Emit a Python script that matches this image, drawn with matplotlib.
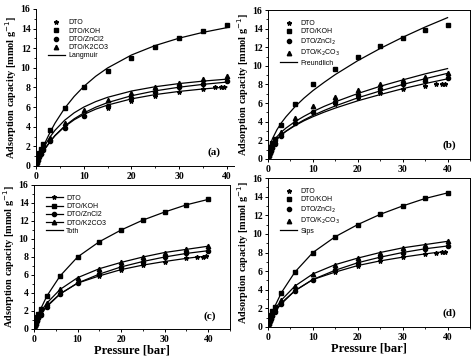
import matplotlib
matplotlib.use("Agg")
import matplotlib.pyplot as plt
from matplotlib.ticker import MultipleLocator

# ---------------- data ----------------
P = [0.2, 0.4, 0.7, 1.0, 1.5, 3, 6, 10, 15, 20, 25, 30, 35, 40]
P_DTO = [0.2, 0.4, 0.7, 1.0, 1.5, 3, 6, 10, 15, 20, 25, 30, 35, 37.5, 38.8, 39.5]

q_DTO = [0.35, 0.65, 1.0, 1.3, 1.7, 2.6, 3.9, 5.1, 5.9, 6.6, 7.1, 7.5, 7.85, 8.0, 8.05, 8.1]
q_KOH = [0.5, 0.9, 1.3, 1.7, 2.2, 3.7, 5.9, 8.0, 9.7, 11.0, 12.1, 13.0, 13.8, 14.4]
q_ZnCl2 = [0.3, 0.6, 0.9, 1.2, 1.6, 2.5, 3.9, 5.1, 6.1, 6.9, 7.5, 8.0, 8.4, 8.7]
q_K2CO3 = [0.4, 0.7, 1.1, 1.4, 1.9, 2.9, 4.4, 5.7, 6.7, 7.4, 8.0, 8.5, 8.85, 9.2]

# fitted curves
PF = [0, 0.5, 1, 2, 3, 4, 6, 8, 10, 12.5, 15, 20, 25, 30, 35, 40]
lang_KOH = [0, 0.69, 1.33, 2.48, 3.49, 4.38, 5.88, 7.09, 8.10, 9.14, 9.99, 11.31, 12.28, 13.03, 13.62, 14.10]
lang_K2CO3 = [0, 0.66, 1.23, 2.21, 3.00, 3.65, 4.66, 5.42, 6.00, 6.56, 7.00, 7.64, 8.08, 8.40, 8.65, 8.85]
lang_ZnCl2 = [0, 0.52, 1.00, 1.82, 2.52, 3.11, 4.07, 4.81, 5.40, 5.99, 6.46, 7.16, 7.66, 8.03, 8.32, 8.55]
lang_DTO = [0, 0.54, 1.02, 1.84, 2.52, 3.10, 4.01, 4.71, 5.25, 5.79, 6.21, 6.84, 7.28, 7.60, 7.85, 8.05]

freu_KOH = [0, 1.52, 2.19, 3.15, 3.90, 4.53, 5.61, 6.53, 7.34, 8.23, 9.07, 10.56, 11.87, 13.07, 14.17, 15.18]
freu_K2CO3 = [0, 1.26, 1.74, 2.40, 2.90, 3.32, 4.01, 4.58, 5.09, 5.65, 6.14, 7.03, 7.81, 8.49, 9.14, 9.71]
freu_ZnCl2 = [0, 1.08, 1.52, 2.13, 2.60, 2.99, 3.64, 4.19, 4.68, 5.21, 5.70, 6.57, 7.31, 8.00, 8.62, 9.20]
freu_DTO = [0, 1.14, 1.57, 2.16, 2.60, 2.97, 3.58, 4.10, 4.54, 5.03, 5.47, 6.25, 6.92, 7.55, 8.10, 8.61]

labels_plain = ["DTO", "DTO/KOH", "DTO/ZnCl2", "DTO/K2CO3"]
labels_sub = ["DTO", "DTO/KOH", r"DTO/ZnCl$_2$", r"DTO/K$_2$CO$_3$"]
markers = ["*", "s", "o", "^"]
msizes = [3.2, 3.0, 3.0, 3.2]

SERIF = "Liberation Serif"
SANS = "Liberation Sans"

fig = plt.figure(figsize=(4.74, 3.56), dpi=100)
W, H = 474, 356


def add_ax(left, right, top, bottom):
    return fig.add_axes([left / W, 1 - bottom / H, (right - left) / W, (bottom - top) / H])


axes = {
    "a": (add_ax(36, 234, 9, 166), 41.5),
    "b": (add_ax(268, 470, 10, 159), 45),
    "c": (add_ax(34, 230, 185, 329), 45),
    "d": (add_ax(268, 470, 178, 327), 45),
}

data_x = [P_DTO, P, P, P]
data_y = [q_DTO, q_KOH, q_ZnCl2, q_K2CO3]


def style(ax, xmax, letter, xlabel):
    ax.set_xlim(0, xmax)
    ax.set_ylim(0, 16)
    ax.xaxis.set_major_locator(MultipleLocator(10))
    ax.xaxis.set_minor_locator(MultipleLocator(5))
    ax.yaxis.set_major_locator(MultipleLocator(2))
    ax.yaxis.set_minor_locator(MultipleLocator(1))
    ax.tick_params(which="major", direction="out", length=2.5, width=0.7, pad=1.5)
    ax.tick_params(which="minor", direction="out", length=1.5, width=0.6)
    for lab in ax.get_xticklabels() + ax.get_yticklabels():
        lab.set_fontfamily(SERIF)
        lab.set_fontweight("bold")
        lab.set_fontsize(7)
    for s in ax.spines.values():
        s.set_linewidth(0.7)
    ax.set_ylabel(r"Adsorption capacity [mmol g$^{-1}$]", fontfamily=SERIF,
                  fontweight="bold", fontsize=7.4, labelpad=1)
    if xlabel:
        ax.set_xlabel("Pressure [bar]", fontfamily=SERIF, fontweight="bold",
                      fontsize=9, labelpad=1)
    ax.text(0.93, 0.09, f"({letter})", transform=ax.transAxes, ha="right",
            va="center", fontfamily=SERIF, fontweight="bold", fontsize=8)


def legend(ax, handles, labels):
    leg = ax.legend(handles, labels, loc="upper left", bbox_to_anchor=(0.04, 0.96),
                    frameon=False, prop={"family": SANS, "size": 5},
                    handlelength=2.4, labelspacing=0.18, borderaxespad=0.2,
                    handletextpad=0.5)
    return leg


# (a) Langmuir
ax, xm = axes["a"]
hs = []
for xs, ys, m, ms in zip(data_x, data_y, markers, msizes):
    h, = ax.plot(xs, ys, ls="none", marker=m, ms=ms, color="black")
    hs.append(h)
for c in [lang_DTO, lang_KOH, lang_ZnCl2, lang_K2CO3]:
    hl, = ax.plot(PF, c, color="black", lw=0.9)
legend(ax, hs + [hl], labels_plain + ["Langmuir"])
style(ax, xm, "a", False)
ax.spines["top"].set_visible(False)
ax.spines["right"].set_visible(False)

# (b) Freundlich
ax, xm = axes["b"]
hs = []
for xs, ys, m, ms in zip(data_x, data_y, markers, msizes):
    h, = ax.plot(xs, ys, ls="none", marker=m, ms=ms, color="black")
    hs.append(h)
for c in [freu_DTO, freu_KOH, freu_ZnCl2, freu_K2CO3]:
    hl, = ax.plot(PF, c, color="black", lw=0.9)
legend(ax, hs + [hl], labels_sub + ["Freundlich"])
style(ax, xm, "b", False)

# (c) Toth
ax, xm = axes["c"]
hs = []
for xs, ys, m, ms in zip(data_x, data_y, markers, msizes):
    h, = ax.plot(xs, ys, ls="-", lw=0.9, marker=m, ms=ms, color="black")
    hs.append(h)
hl, = ax.plot([], [], color="black", lw=0.9)
legend(ax, hs + [hl], labels_plain + ["Toth"])
style(ax, xm, "c", True)

# (d) Sips
ax, xm = axes["d"]
hs = []
for xs, ys, m, ms in zip(data_x, data_y, markers, msizes):
    ax.plot(xs, ys, ls="-", lw=0.9, marker=m, ms=ms, color="black")
    h, = ax.plot([], [], ls="none", marker=m, ms=ms, color="black")
    hs.append(h)
hl, = ax.plot([], [], color="black", lw=0.9)
legend(ax, hs + [hl], labels_sub + ["Sips"])
style(ax, xm, "d", True)

fig.savefig("out.png", dpi=100)
